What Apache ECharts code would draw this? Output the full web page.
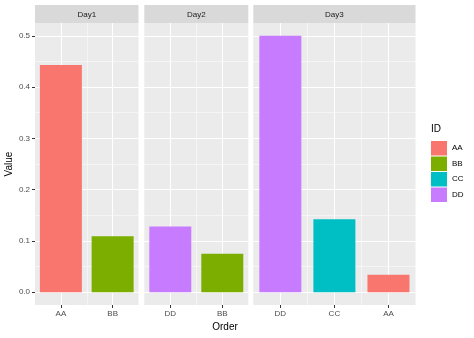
<!DOCTYPE html>
<html><head><meta charset="utf-8">
<script src="https://cdn.jsdelivr.net/npm/echarts@6/dist/echarts.min.js"></script>
<style>html,body{margin:0;padding:0;background:#fff}#c{width:474px;height:338px}</style>
</head><body><div id="c"></div>
<script>
// ---- data ----
const days = ['Day1', 'Day2', 'Day3'];
const day1Order = ['AA', 'BB'];
const day1Values = [0.443, 0.109];
const day2Order = ['DD', 'BB'];
const day2Values = [0.128, 0.075];
const day3Order = ['DD', 'CC', 'AA'];
const day3Values = [0.500, 0.142, 0.034];
const ids = ['AA', 'BB', 'CC', 'DD'];
const yTickValues = [0, 0.1, 0.2, 0.3, 0.4, 0.5];
const yMinorValues = [0.05, 0.15, 0.25, 0.35, 0.45];

// ---- styling ----
const idColors = {AA: '#F8766D', BB: '#7CAE00', CC: '#00BFC4', DD: '#C77CFF'};
const FONT = "'Liberation Sans', Arial, sans-serif";
const panels = [
  {left: 35, width: 103.5, order: day1Order, values: day1Values},
  {left: 144.3, width: 104, order: day2Order, values: day2Values},
  {left: 253.3, width: 162.2, order: day3Order, values: day3Values}
];
const PTOP = 23, PH = 282, STRIP_TOP = 5, STRIP_H = 18;
const YMIN = -0.025, YMAX = 0.525;

const grid = [], xAxis = [], yAxis = [], series = [], graphic = [];
panels.forEach((p, i) => {
  grid.push({left: p.left, top: PTOP, width: p.width, height: PH, show: true,
    backgroundColor: '#EBEBEB', borderWidth: 0, containLabel: false});
});
// category axes (bars, labels, minor vertical lines)
panels.forEach((p, i) => {
  xAxis.push({type: 'category', gridIndex: i, data: p.order, boundaryGap: true, position: 'bottom',
    axisLine: {show: false, onZero: false},
    axisTick: {show: true, alignWithLabel: true, length: 3, lineStyle: {color: '#333333', width: 1}},
    axisLabel: {color: '#4D4D4D', fontSize: 8, fontFamily: FONT, margin: 5},
    splitLine: {show: true, showMinLine: false, showMaxLine: false, lineStyle: {color: '#FFFFFF', width: 0.5}}
  });
});
// value axes for major vertical grid lines at category centres
panels.forEach((p, i) => {
  xAxis.push({type: 'value', gridIndex: i, min: -0.5, max: p.order.length - 0.5, position: 'top',
    axisLine: {show: false, onZero: false},
    axisTick: {show: false, customValues: p.order.map((_, k) => k)},
    axisLabel: {show: false, customValues: p.order.map((_, k) => k)},
    splitLine: {show: true, lineStyle: {color: '#FFFFFF', width: 1.1}}
  });
});
panels.forEach((p, i) => {
  yAxis.push({type: 'value', gridIndex: i, min: YMIN, max: YMAX, position: 'left',
    axisLine: {show: false, onZero: false},
    axisTick: {show: i === 0, length: 3, customValues: yTickValues, lineStyle: {color: '#333333', width: 1}},
    axisLabel: {show: i === 0, customValues: yTickValues, color: '#4D4D4D', fontSize: 8, fontFamily: FONT, margin: 5,
      formatter: v => Number(v).toFixed(1)},
    splitLine: {show: true, lineStyle: {color: '#FFFFFF', width: 1.1}}
  });
});
panels.forEach((p, i) => {
  yAxis.push({type: 'value', gridIndex: i, min: YMIN, max: YMAX, position: 'right',
    axisLine: {show: false, onZero: false},
    axisTick: {show: false, customValues: yMinorValues},
    axisLabel: {show: false, customValues: yMinorValues},
    splitLine: {show: true, lineStyle: {color: '#FFFFFF', width: 0.5}}
  });
});
// bars: one series per ID per panel, overlapping at the category slot
panels.forEach((p, i) => {
  ids.forEach(id => {
    if (!p.order.includes(id)) return;
    series.push({type: 'bar', name: id, xAxisIndex: i, yAxisIndex: i,
      barWidth: 42, barGap: '-100%', itemStyle: {color: idColors[id]}, z: 3,
      emphasis: {disabled: true},
      data: p.order.map((o, k) => (o === id ? p.values[k] : null))});
  });
});
// strips
panels.forEach((p, i) => {
  graphic.push({type: 'rect', left: p.left, top: STRIP_TOP,
    shape: {width: p.width, height: STRIP_H}, style: {fill: '#D9D9D9'}, silent: true});
  graphic.push({type: 'text', x: p.left + p.width / 2, y: STRIP_TOP + STRIP_H / 2 + 0.5,
    style: {text: days[i], fill: '#1A1A1A', font: '8px ' + FONT, textAlign: 'center', textVerticalAlign: 'middle'}, silent: true});
});
// axis titles and legend title
graphic.push({type: 'text', x: 225, y: 327,
  style: {text: 'Order', fill: '#000', font: '10px ' + FONT, textAlign: 'center', textVerticalAlign: 'middle'}});
graphic.push({type: 'text', x: 9, y: 164, rotation: Math.PI / 2,
  style: {text: 'Value', fill: '#000', font: '10px ' + FONT, textAlign: 'center', textVerticalAlign: 'middle'}});
graphic.push({type: 'text', x: 431, y: 129,
  style: {text: 'ID', fill: '#000', font: '10px ' + FONT, textAlign: 'left', textVerticalAlign: 'middle'}});

const chart = echarts.init(document.getElementById('c'), null, {renderer: 'canvas'});
chart.setOption({
  animation: false,
  backgroundColor: '#FFFFFF',
  grid, xAxis, yAxis, series, graphic,
  legend: {orient: 'vertical', left: 431, top: 141, selectedMode: false,
    data: ids.map(id => ({name: id, icon: 'rect', itemStyle: {color: idColors[id]}})),
    itemWidth: 16, itemHeight: 14.5, itemGap: 1, padding: 0,
    textStyle: {color: '#000', fontSize: 8, fontFamily: FONT}}
});
</script></body></html>
